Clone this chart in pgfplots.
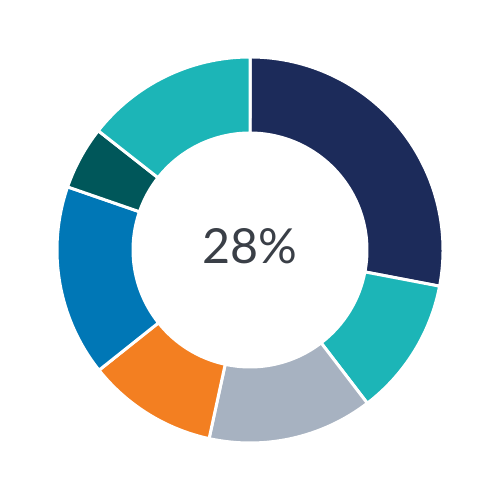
\documentclass[border=0pt]{standalone}
\usepackage{pgfplots}
\pgfplotsset{compat=1.18}
\usepackage{pgfplotstable}
\usepackage{fontspec}
\setmainfont{Lato}

\definecolor{cNavy}{HTML}{1C2B5A}
\definecolor{cTeal}{HTML}{1CB5B7}
\definecolor{cGray}{HTML}{A7B2C1}
\definecolor{cOrange}{HTML}{F37F21}
\definecolor{cBlue}{HTML}{0077B6}
\definecolor{cGreen}{HTML}{00575A}
\definecolor{cText}{HTML}{3A3F47}

% share of each segment, clockwise from 12 o'clock
\pgfplotstableread{
value color
28.0 cNavy
11.6 cTeal
13.8 cGray
10.9 cOrange
16.0 cBlue
5.3 cGreen
14.4 cTeal
}\donutdata

\def\Rout{0.772}
\def\Rin{0.468}

\begin{document}
\begin{tikzpicture}
\begin{axis}[
  width=10cm, height=10cm, scale only axis,
  xmin=-1, xmax=1, ymin=-1, ymax=1,
  hide axis, clip=false,
]
\path (axis cs:-1,-1) rectangle (axis cs:1,1);
\pgfplotstablegetrowsof{\donutdata}
\pgfmathtruncatemacro\nrows{\pgfplotsretval-1}
\def\startang{90}
\pgfplotsforeachungrouped \i in {0,...,\nrows}{
  \pgfplotstablegetelem{\i}{value}\of\donutdata \let\val\pgfplotsretval
  \pgfplotstablegetelem{\i}{color}\of\donutdata \let\col\pgfplotsretval
  \pgfmathsetmacro\endang{\startang-3.6*\val}
  \pgfmathsetmacro\xa{\Rout*cos(\startang)}
  \pgfmathsetmacro\ya{\Rout*sin(\startang)}
  \pgfmathsetmacro\xb{\Rin*cos(\endang)}
  \pgfmathsetmacro\yb{\Rin*sin(\endang)}
  \edef\temp{\noexpand\fill[\col, draw=white, line width=1.7pt]
    (axis cs:\xa,\ya)
    arc[start angle=\startang, end angle=\endang, radius=\Rout]
    -- (axis cs:\xb,\yb)
    arc[start angle=\endang, end angle=\startang, radius=\Rin] -- cycle;}
  \temp
  \global\let\startang\endang
}
\node[font=\fontsize{27.5}{30}\selectfont, text=cText] at (axis cs:0,0.015) {28\%};
\end{axis}
\end{tikzpicture}
\end{document}
